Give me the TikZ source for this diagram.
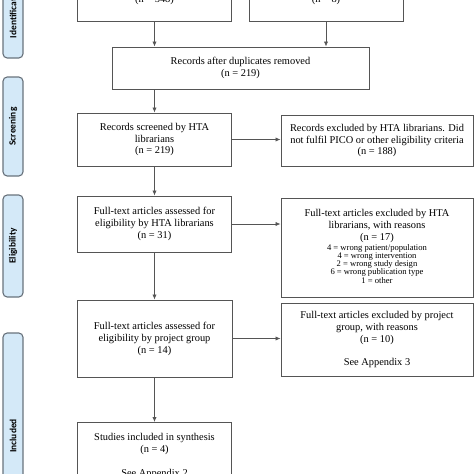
\documentclass[tikz,border=0pt]{standalone}
\usepackage{fontspec}
\setmainfont{Liberation Serif}
\newfontfamily\labelfont{Carlito}
\usetikzlibrary{arrows.meta}

\definecolor{phasefill}{RGB}{212,233,248}
\definecolor{phaseedge}{RGB}{105,115,125}
\definecolor{boxedge}{RGB}{85,85,85}
\newcommand{\pxu}{0.025cm}
\newcommand{\reasonfont}{\fontsize{6.1}{5.4}\selectfont}

\begin{document}
\begin{tikzpicture}[
    x=\pxu, y=-\pxu,
    box/.style={rectangle, draw=boxedge, line width=0.7pt, align=center, inner sep=2pt,
        font=\fontsize{7.4}{8.5}\selectfont},
    boxdim/.style 2 args={minimum width=#1*\pxu, minimum height=#2*\pxu},
    phase/.style={rectangle, rounded corners=3pt, draw=phaseedge, fill=phasefill, line width=0.8pt,
        rotate=90, minimum height=20*\pxu, inner sep=1pt,
        font=\labelfont\bfseries\fontsize{6.7}{8}\selectfont},
    flow/.style={-{Latex[length=3.5pt,width=3pt]}, draw=boxedge, line width=0.5pt}
]
    \useasboundingbox (0,0) rectangle (474,474);

    % Phase labels
    \node[phase, minimum width=92*\pxu] (identlbl) at (13,12) {Identification};
    \node[phase, minimum width=99*\pxu] (screenlbl) at (13,126.5) {Screening};
    \node[phase, minimum width=102*\pxu] (eliglbl) at (13,246) {Eligibility};
    \node[phase, minimum width=206*\pxu] (incllbl) at (13,436) {Included};

    % Identification
    \node[box, boxdim={154}{66}] (dbrec) at (154.5,-12) {Records identified through\\database searching\\(n = 548)};
    \node[box, boxdim={154}{66}] (otherrec) at (326,-12) {Additional records identified\\through other sources\\(n = 8)};
    \node[box, boxdim={257}{42}] (dup) at (240.5,68) {Records after duplicates removed\\(n = 219)};

    % Screening
    \node[box, boxdim={154}{53}] (screen) at (154.5,139.5) {Records screened by HTA\\librarians\\(n = 219)};
    \node[box, boxdim={192}{51}] (excl1) at (377,140.5) {Records excluded by HTA librarians. Did\\not fulfil PICO or other eligibility criteria\\(n = 188)};

    % Eligibility
    \node[box, boxdim={154}{56}] (ft1) at (154.5,224) {Full-text articles assessed for\\eligibility by HTA librarians\\(n = 31)};
    \node[box, boxdim={192}{99}] (excl2) at (377,247.5) {Full-text articles excluded by HTA\\librarians, with reasons\\(n = 17)\\
        {\reasonfont\begin{tabular}{@{}c@{}}
            4 = wrong patient/population\\
            4 = wrong intervention\\
            2 = wrong study design\\
            6 = wrong publication type\\
            1 = other
        \end{tabular}}};
    \node[box, boxdim={155}{77}] (ft2) at (154.5,338.5) {Full-text articles assessed for\\eligibility by project group\\(n = 14)};
    \node[box, boxdim={192}{73}] (excl3) at (377,339.5) {Full-text articles excluded by project\\group, with reasons\\(n = 10)\\[8.5pt]See Appendix 3};

    % Included
    \node[box, anchor=north, minimum width=154*\pxu, inner ysep=7.8pt] (incl) at (154.5,422) {Studies included in synthesis\\(n = 4)\\[8.5pt]See Appendix 2};

    % Connections
    \draw[flow] (dbrec) -- (dbrec |- dup.north);
    \draw[flow] (otherrec) -- (otherrec |- dup.north);
    \draw[flow] (dup.south -| screen) -- (screen);
    \draw[flow] (screen.east) -- (screen.east -| excl1.west);
    \draw[flow] (screen) -- (ft1);
    \draw[flow] (ft1.east) -- (ft1.east -| excl2.west);
    \draw[flow] (ft1) -- (ft2);
    \draw[flow] (ft2.east) -- (ft2.east -| excl3.west);
    \draw[flow] (ft2) -- (incl);
\end{tikzpicture}
\end{document}
